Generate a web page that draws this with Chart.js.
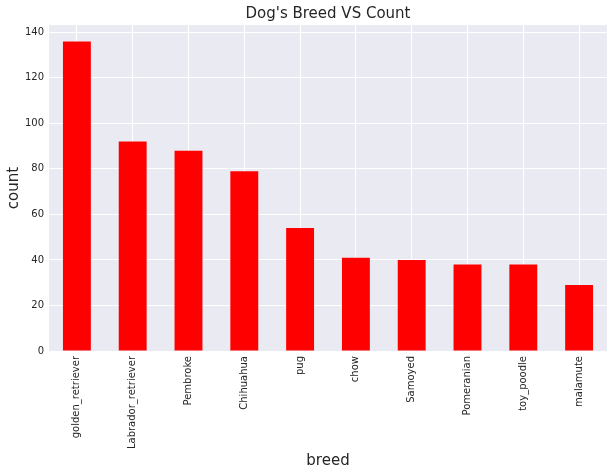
<!DOCTYPE html>
<html>
<head>
<meta charset="utf-8">
<script src="https://cdn.jsdelivr.net/npm/chart.js@4/dist/chart.umd.min.js"></script>
<style>
  html, body { margin: 0; padding: 0; background: #fff; }
  canvas { display: block; }
</style>
</head>
<body>
<canvas id="breedChart" width="613" height="474"></canvas>
<script>
const breeds = [
    "golden_retriever", "Labrador_retriever", "Pembroke", "Chihuahua", "pug",
    "chow", "Samoyed", "Pomeranian", "toy_poodle", "malamute",
];
const counts = [136, 92, 88, 79, 54, 41, 40, 38, 38, 29];
const yTicks = [0, 20, 40, 60, 80, 100, 120, 140];

const textColor = "#262626";

// seaborn darkgrid style background behind the plot area
const plotBackground = {
    id: "plotBackground",
    beforeDraw(chart) {
        const { ctx, chartArea } = chart;
        ctx.save();
        ctx.fillStyle = "#EAEAF2";
        ctx.fillRect(chartArea.left, chartArea.top,
            chartArea.right - chartArea.left, chartArea.bottom - chartArea.top);
        ctx.restore();
    },
};

new Chart(document.getElementById("breedChart"), {
    type: "bar",
    data: {
        labels: breeds,
        datasets: [
            {
                data: counts,
                backgroundColor: "#FF0000",
                borderWidth: 0,
                barPercentage: 0.5,
                categoryPercentage: 1.0,
            },
        ],
    },
    options: {
        responsive: false,
        devicePixelRatio: 1,
        animation: false,
        layout: { padding: { left: 0, right: 6, top: 0, bottom: 0 } },
        plugins: {
            legend: { display: false },
            tooltip: { enabled: false },
            title: {
                display: true,
                text: "Dog's Breed VS Count",
                color: textColor,
                fullSize: false,
                font: { family: "DejaVu Sans", size: 15, weight: "normal" },
                padding: { top: 5, bottom: 2 },
            },
        },
        scales: {
            x: {
                offset: true,
                grid: { color: "#FFFFFF", lineWidth: 1, offset: false, drawTicks: false },
                border: { display: false },
                ticks: {
                    color: textColor,
                    font: { family: "DejaVu Sans", size: 10 },
                    minRotation: 90,
                    maxRotation: 90,
                    padding: 5,
                    autoSkip: false,
                },
                title: {
                    display: true,
                    text: "breed",
                    color: textColor,
                    font: { family: "DejaVu Sans", size: 15 },
                    padding: { top: 0, bottom: 4 },
                },
                afterFit(scale) { scale.height = 123; },
            },
            y: {
                min: 0,
                max: 143.2,
                grid: { color: "#FFFFFF", lineWidth: 1, drawTicks: false },
                border: { display: false },
                afterBuildTicks(scale) {
                    scale.ticks = yTicks.map((v) => ({ value: v }));
                },
                ticks: {
                    color: textColor,
                    font: { family: "DejaVu Sans", size: 10 },
                    padding: 5,
                },
                title: {
                    display: true,
                    text: "count",
                    color: textColor,
                    font: { family: "DejaVu Sans", size: 15 },
                    padding: { top: 5, bottom: 0 },
                },
                afterFit(scale) { scale.width = 49; },
            },
        },
    },
    plugins: [plotBackground],
});
</script>
</body>
</html>
